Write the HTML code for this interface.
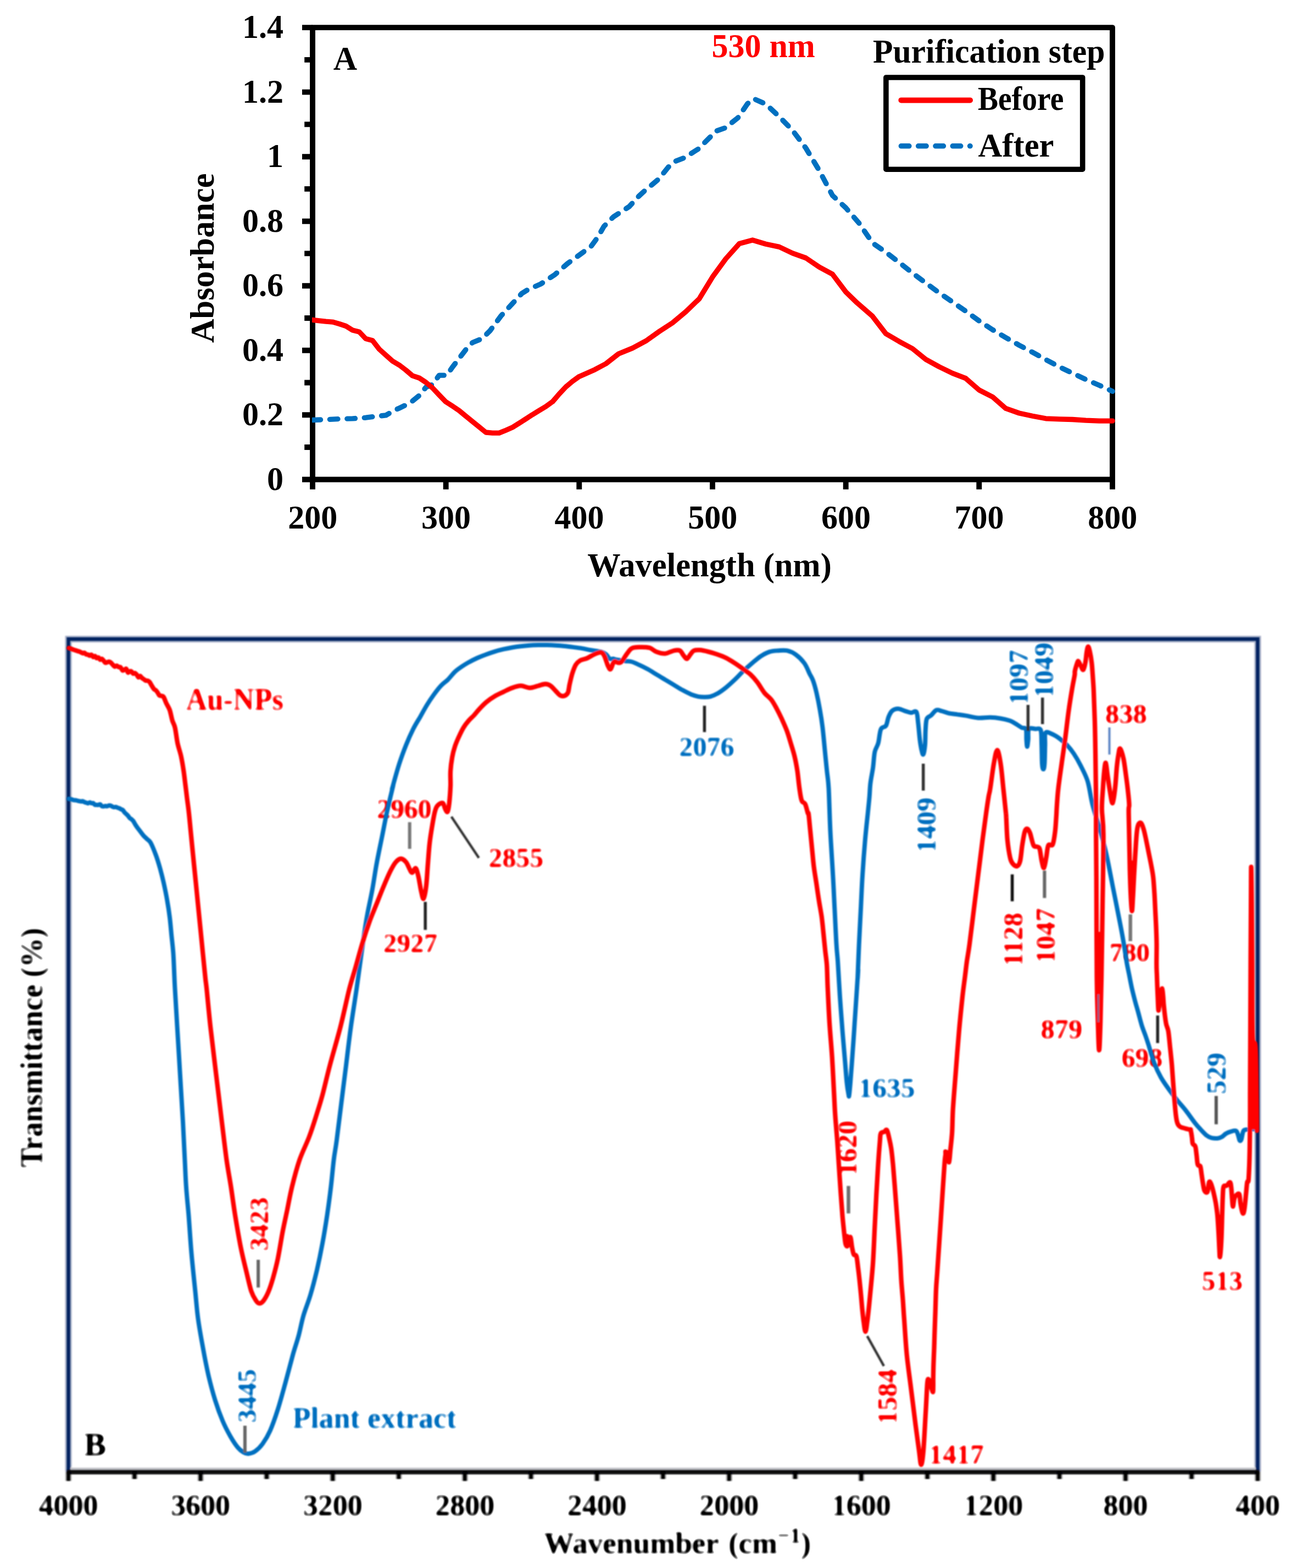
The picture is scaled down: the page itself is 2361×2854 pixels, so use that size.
<!DOCTYPE html>
<html lang="en"><head><meta charset="utf-8"><title>UV-Vis and FTIR spectra</title>
<style>html,body{margin:0;padding:0;background:#fff}body{width:2361px;height:2854px;overflow:hidden}svg{display:block}text{font-family:'Liberation Serif', 'Times New Roman', serif;font-weight:bold}</style>
</head><body>
<svg width="2361" height="2854" viewBox="0 0 2361 2854">
<defs><filter id="soft" x="-2%" y="-2%" width="104%" height="104%"><feGaussianBlur stdDeviation="1.1"/></filter><filter id="thin" x="-2%" y="-2%" width="104%" height="104%"><feGaussianBlur stdDeviation="1.9"/><feComponentTransfer><feFuncA type="linear" slope="1.7" intercept="-0.32"/></feComponentTransfer></filter></defs>
<rect width="2361" height="2854" fill="#fff"/>
<g id="chartA">
<rect x="569.0" y="50.1" width="1456.0" height="822.6999999999999" fill="none" stroke="#000" stroke-width="9.9" stroke-linejoin="round"/>
<path d="M550 872.8H569.0M554.2 814H569.0M550 755.3H569.0M554.2 696.5H569.0M550 637.7H569.0M554.2 579H569.0M550 520.2H569.0M554.2 461.4H569.0M550 402.7H569.0M554.2 343.9H569.0M550 285.2H569.0M554.2 226.4H569.0M550 167.6H569.0M554.2 108.9H569.0M550 50.1H569.0M569 872.8V890.8M811.7 872.8V890.8M1054.3 872.8V890.8M1297 872.8V890.8M1539.7 872.8V890.8M1782.3 872.8V890.8M2025 872.8V890.8" fill="none" stroke="#000" stroke-width="9.9"/>
<clipPath id="clipA"><rect x="567.9" y="45" width="1462.1" height="833"/></clipPath>
<g clip-path="url(#clipA)">
<path d="M568.9 764.5 L593.4 763.7 L617.6 762.5 L641.8 761.9 L665.9 760.2 L683.8 757.9 L702.5 755.9 L714.6 748.7 L726.7 742.9 L738.8 737.2 L750.8 730 L763.2 719.9 L775.3 704.9 L787.4 699.8 L799.5 683.1 L813.3 683.1 L823.7 668.1 L835.8 652.3 L847.9 636.4 L860.2 623.5 L877.7 616.3 L892.1 601.9 L912.3 574.6 L932.4 553 L949.7 534.3 L961.2 527.1 L984.2 517 L1010.1 499.8 L1033.2 479.6 L1059.1 460.9 L1076.3 447.9 L1087.9 432.1 L1099.4 412 L1116.6 394.7 L1145.4 376 L1162.7 357.3 L1173.5 347.3 L1199.4 325.7 L1216.6 304.1 L1228.2 294 L1245.4 287.4 L1271.3 271 L1292.9 249.4 L1301.6 239.3 L1320.3 232.7 L1343.3 214.3 L1360.6 188.9 L1372.1 179.7 L1394 189.5 L1418.2 212 L1442.7 237.3 L1466.9 269.5 L1491 309.8 L1515.5 355.9 L1539.7 378.3 L1563.9 406.3 L1588.3 442.2 L1612.4 459 L1636.9 477.7 L1661 497 L1685.2 515.1 L1709.7 533 L1733.9 549.7 L1758 566.4 L1782.5 584.2 L1806.7 600.1 L1830.9 614.5 L1855.3 628.3 L1879.5 641.2 L1903.7 654.5 L1928.2 667.7 L1952.3 679.2 L1976.5 690.7 L2001 701.3 L2025.2 712.3" fill="none" stroke="#0070c0" stroke-width="9.4" stroke-linecap="round" stroke-linejoin="round" stroke-dasharray="14.6 16.9"/>
<path d="M568.9 582.3 L581.6 583.8 L593.4 585.2 L605.5 586.1 L617.6 589.5 L629.7 593.5 L641.8 601 L653.8 603.9 L665.9 616.6 L678 619.7 L690.4 635.6 L702.5 646.5 L714.6 657.2 L726.7 664.4 L738.8 673.6 L750.8 683.9 L763.2 688 L775.3 696 L787.4 706.1 L799.5 719 L811.6 731.4 L823.7 739.2 L835.8 747.3 L847.9 757.3 L860.2 767.4 L872.3 777.2 L884.4 787 L896.5 788.1 L908.6 788.1 L920.7 783.2 L933.1 777.8 L945.1 770.3 L957.2 762.5 L969.3 754.7 L981.4 747.3 L993.5 740.1 L1005.9 731.1 L1018 717 L1030.1 704.1 L1042.2 694 L1054.2 685.4 L1083 672.7 L1103 662 L1126 644 L1151.4 633.6 L1175.6 620.7 L1200 603.4 L1224.2 587.6 L1248.4 567.4 L1272.9 543.8 L1297.1 504.1 L1321.2 471 L1345.7 443.6 L1369.9 437 L1394.1 444.2 L1418.5 449.4 L1442.7 460.9 L1466.9 469.5 L1491.4 486.2 L1515.5 499.2 L1539.7 531.4 L1560 551.1 L1588.2 575.6 L1612.4 607.2 L1636.9 621.6 L1661 634.5 L1685.2 654.1 L1709.7 667.6 L1733.9 679.4 L1758 688.7 L1782.5 710 L1806.7 722.3 L1830.9 743.4 L1855.3 752 L1879.5 757.2 L1903.7 761.8 L1928.2 762.9 L1952.3 763.5 L1976.5 765.2 L2001 766.1 L2025.2 766.1" fill="none" stroke="#ff0000" stroke-width="9.3" stroke-linecap="round" stroke-linejoin="round"/>
</g>
<g font-size="60" fill="#000">
<text transform="translate(516 891.7) scale(1 1.03)" text-anchor="end">0</text>
<text transform="translate(516 774.2) scale(1 1.03)" text-anchor="end">0.2</text>
<text transform="translate(516 656.6) scale(1 1.03)" text-anchor="end">0.4</text>
<text transform="translate(516 539.1) scale(1 1.03)" text-anchor="end">0.6</text>
<text transform="translate(516 421.6) scale(1 1.03)" text-anchor="end">0.8</text>
<text transform="translate(516 304.1) scale(1 1.03)" text-anchor="end">1</text>
<text transform="translate(516 186.5) scale(1 1.03)" text-anchor="end">1.2</text>
<text transform="translate(516 69) scale(1 1.03)" text-anchor="end">1.4</text>
<text transform="translate(569.3 962.4) scale(1 1.03)" text-anchor="middle">200</text>
<text transform="translate(812 962.4) scale(1 1.03)" text-anchor="middle">300</text>
<text transform="translate(1054.6 962.4) scale(1 1.03)" text-anchor="middle">400</text>
<text transform="translate(1297.3 962.4) scale(1 1.03)" text-anchor="middle">500</text>
<text transform="translate(1540 962.4) scale(1 1.03)" text-anchor="middle">600</text>
<text transform="translate(1782.6 962.4) scale(1 1.03)" text-anchor="middle">700</text>
<text transform="translate(2025.3 962.4) scale(1 1.03)" text-anchor="middle">800</text>
<text transform="translate(1291.5 1048.6) scale(1 1.03)" text-anchor="middle" textLength="444.5" lengthAdjust="spacingAndGlyphs">Wavelength (nm)</text>
<text transform="translate(389.1 469.8) rotate(-90) scale(1 1.03)" text-anchor="middle" textLength="308.5" lengthAdjust="spacingAndGlyphs">Absorbance</text>
<text transform="translate(606.8 127.1) scale(1 1.03)">A</text>
<text transform="translate(1295.5 104.2) scale(1 1.03)" fill="#ff0000">530 nm</text>
<text transform="translate(1589 113.5) scale(1 1.03)" textLength="422.5" lengthAdjust="spacingAndGlyphs">Purification step</text>
<text transform="translate(1780 200.4) scale(1 1.03)" textLength="156.5" lengthAdjust="spacingAndGlyphs">Before</text>
<text transform="translate(1780.5 284.7) scale(1 1.03)" textLength="138" lengthAdjust="spacingAndGlyphs">After</text>
</g>
<rect x="1612.9" y="141" width="357.8" height="167.2" fill="none" stroke="#000" stroke-width="9.6" stroke-linejoin="round"/>
<path d="M1640.4 182.4H1766" fill="none" stroke="#ff0000" stroke-width="10" stroke-linecap="round"/>
<path d="M1640.4 265.8H1766" fill="none" stroke="#0070c0" stroke-width="9.6" stroke-linecap="round" stroke-dasharray="14.4 16.9"/>
</g>
<g id="chartB">
<g filter="url(#soft)">
<path d="M124.6 2678.3V1163.2H2289.4V2678.3" fill="none" stroke="#002060" stroke-opacity="0.36" stroke-width="12" stroke-linejoin="miter"/>
<path d="M124.6 2678.3V1163.2H2289.4V2678.3" fill="none" stroke="#002060" stroke-width="6.4" stroke-linejoin="miter"/>
<path d="M128.6 2673.2H2285.4" fill="none" stroke="#bfc0c6" stroke-width="3.4"/>
<path d="M121.6 2679.3H2292.4" fill="none" stroke="#0a0a0c" stroke-width="8.6"/>
<path d="M124.6 2678.3V2695.6M244.9 2678.3V2692M365.1 2678.3V2695.6M485.4 2678.3V2692M605.7 2678.3V2695.6M725.9 2678.3V2692M846.2 2678.3V2695.6M966.5 2678.3V2692M1086.7 2678.3V2695.6M1207 2678.3V2692M1327.3 2678.3V2695.6M1447.5 2678.3V2692M1567.8 2678.3V2695.6M1688.1 2678.3V2692M1808.3 2678.3V2695.6M1928.6 2678.3V2692M2048.9 2678.3V2695.6M2169.1 2678.3V2692M2289.4 2678.3V2695.6" fill="none" stroke="#000" stroke-opacity="0.35" stroke-width="11.5"/>
<path d="M124.6 2678.3V2695.6M244.9 2678.3V2692M365.1 2678.3V2695.6M485.4 2678.3V2692M605.7 2678.3V2695.6M725.9 2678.3V2692M846.2 2678.3V2695.6M966.5 2678.3V2692M1086.7 2678.3V2695.6M1207 2678.3V2692M1327.3 2678.3V2695.6M1447.5 2678.3V2692M1567.8 2678.3V2695.6M1688.1 2678.3V2692M1808.3 2678.3V2695.6M1928.6 2678.3V2692M2048.9 2678.3V2695.6M2169.1 2678.3V2692M2289.4 2678.3V2695.6" fill="none" stroke="#050505" stroke-width="6.4"/>
</g>
<g filter="url(#thin)">
<text font-size="54" fill="#000" text-anchor="middle" x="124.6" y="2758.2">4000</text>
<text font-size="54" fill="#000" text-anchor="middle" x="365.1" y="2758.2">3600</text>
<text font-size="54" fill="#000" text-anchor="middle" x="605.7" y="2758.2">3200</text>
<text font-size="54" fill="#000" text-anchor="middle" x="846.2" y="2758.2">2800</text>
<text font-size="54" fill="#000" text-anchor="middle" x="1086.7" y="2758.2">2400</text>
<text font-size="54" fill="#000" text-anchor="middle" x="1327.3" y="2758.2">2000</text>
<text font-size="54" fill="#000" text-anchor="middle" x="1567.8" y="2758.2">1600</text>
<text font-size="54" fill="#000" text-anchor="middle" x="1808.3" y="2758.2">1200</text>
<text font-size="54" fill="#000" text-anchor="middle" x="2048.9" y="2758.2">800</text>
<text font-size="54" fill="#000" text-anchor="middle" x="2289.4" y="2758.2">400</text>
<text x="990" y="2826.7" font-size="55.2" fill="#000">Wavenumber <tspan dx="4.5">(cm</tspan><tspan font-size="40" dy="-19">−1</tspan><tspan dy="19">)</tspan></text>
<text transform="translate(76.6 2125) rotate(-90)" font-size="57" fill="#000" textLength="436" lengthAdjust="spacingAndGlyphs">Transmittance (%)</text>
<text font-size="60" fill="#000" x="153" y="2649">B</text>
<text font-size="56" fill="#ff0000" textLength="177.5" lengthAdjust="spacingAndGlyphs" x="338.5" y="1292">Au-NPs</text>
<text font-size="54" fill="#0070c0" x="532.5" y="2598.6">Plant extract</text>
<text font-size="49.8" fill="#ff0000" x="686" y="1488.8">2960</text>
<text font-size="49.3" fill="#ff0000" x="697.8" y="1732.6">2927</text>
<text font-size="49.8" fill="#ff0000" x="889.5" y="1578.1">2855</text>
<text font-size="50.2" fill="#0070c0" x="1236.3" y="1375.8">2076</text>
<text font-size="51.5" fill="#0070c0" x="1562.5" y="1997.4">1635</text>
<text font-size="50.2" fill="#ff0000" x="1690.8" y="2663.8">1417</text>
<text font-size="50.6" fill="#ff0000" x="2012" y="1315.6">838</text>
<text font-size="49" fill="#ff0000" x="2019.5" y="1750.4">780</text>
<text font-size="50.6" fill="#ff0000" x="1894.5" y="1889.6">879</text>
<text font-size="49.6" fill="#ff0000" x="2041.8" y="1941.8">698</text>
<text font-size="49.6" fill="#ff0000" x="2187.6" y="2348.4">513</text>
<text font-size="48.8" fill="#ff0000" transform="translate(488.2 2276.8) rotate(-90)">3423</text>
<text font-size="48.9" fill="#0070c0" transform="translate(465.8 2589.8) rotate(-90)">3445</text>
<text font-size="50.5" fill="#0070c0" transform="translate(1703.1 1552.5) rotate(-90)">1409</text>
<text font-size="50.5" fill="#ff0000" transform="translate(1860.6 1759.2) rotate(-90)">1128</text>
<text font-size="50.5" fill="#ff0000" transform="translate(1919.6 1753.5) rotate(-90)">1047</text>
<text font-size="50.5" fill="#0070c0" transform="translate(1870.5 1283.5) rotate(-90)">1097</text>
<text font-size="50.5" fill="#0070c0" transform="translate(1916.5 1270.5) rotate(-90)">1049</text>
<text font-size="50.5" fill="#0070c0" transform="translate(2231.3 1991.8) rotate(-90)">529</text>
<text font-size="50.5" fill="#ff0000" transform="translate(1559 2140.5) rotate(-90)">1620</text>
<text font-size="50.5" fill="#ff0000" transform="translate(1631.8 2593.0) rotate(-90)">1584</text>
</g>
<g filter="url(#soft)">
<path d="M125.3 1454 C125.9 1454.1 127.4 1454.4 128.5 1454.6 C129.6 1454.9 130.6 1455.1 131.7 1455.4 C132.7 1455.6 133.8 1456.2 134.8 1456.4 C135.9 1456.6 136.9 1456.5 138 1456.6 C139.1 1456.8 140.1 1457.1 141.2 1457.4 C142.2 1457.6 143.3 1458 144.3 1458.2 C145.4 1458.5 146.4 1458.7 147.5 1458.7 C148.6 1458.8 149.6 1458.2 150.7 1458.4 C151.7 1458.7 152.8 1459.6 153.8 1460 C154.9 1460.5 155.9 1460.7 157 1461 C158.1 1461.4 159.1 1462.3 160.2 1462.2 C161.2 1462.1 162.3 1460.6 163.3 1460.6 C164.4 1460.5 165.4 1461.7 166.5 1461.9 C167.5 1462.1 168.6 1461.4 169.7 1461.8 C170.7 1462.3 171.8 1464.2 172.8 1464.8 C173.9 1465.3 174.9 1465 176 1465 C177 1465.1 178.1 1465.2 179.2 1465.1 C180.2 1464.9 181.3 1463.6 182.3 1464 C183.4 1464.4 184.4 1466.8 185.5 1467.4 C186.5 1468 187.6 1467.8 188.7 1467.7 C189.7 1467.7 190.8 1467.2 191.8 1467.1 C192.9 1467.1 193.9 1467.5 195 1467.4 C196 1467.3 197.1 1466.5 198.2 1466.3 C199.2 1466.1 200.3 1466 201.3 1466.3 C202.4 1466.6 203.4 1467.7 204.5 1468.2 C205.5 1468.7 206.6 1469.2 207.7 1469.3 C208.7 1469.3 209.8 1468.6 210.8 1468.7 C211.9 1468.8 212.9 1469.7 214 1470.1 C215 1470.5 216.1 1470.7 217.2 1471.2 C218.2 1471.7 219.3 1472.4 220.3 1473 C221.4 1473.5 222.4 1473.4 223.5 1474.4 C224.5 1475.4 225.6 1477.5 226.7 1478.7 C227.7 1479.9 228.8 1480.6 229.8 1481.6 C230.9 1482.6 231.9 1483.5 233 1484.7 C234 1486 235.1 1487.9 236.2 1489 C237.2 1490.1 238.3 1490.3 239.3 1491.1 C240.4 1492 241.3 1492.6 242.5 1494.2 C243.7 1495.9 245.1 1498.9 246.4 1501 C247.8 1503.1 249.1 1505.1 250.4 1506.9 C251.7 1508.7 252.9 1510 254.1 1511.7 C255.3 1513.3 256.6 1515.1 257.8 1516.7 C259 1518.3 260.3 1519.9 261.5 1521.2 C262.6 1522.4 263.6 1523.3 264.7 1524.3 C265.7 1525.3 266.2 1525.8 267.8 1527.4 C269.4 1529 271.5 1529.1 274.2 1533.8 C276.8 1538.6 280.7 1548.1 283.6 1556 C286.6 1563.9 289.2 1572.9 291.6 1581.3 C293.9 1589.8 295.8 1597.2 297.9 1606.7 C300 1616.2 302.4 1627.8 304.2 1638.3 C306.1 1648.9 307.7 1659.4 309 1670 C310.3 1680.5 311.1 1691.1 312.1 1701.6 C313.2 1712.2 314.5 1722.8 315.3 1733.3 C316.1 1743.9 316.4 1753.9 316.9 1765 C317.4 1776.1 317.5 1782.6 318.5 1800 C319.4 1817.4 321.1 1843.2 322.6 1869.1 C324.2 1895 326.1 1926.7 327.8 1955.4 C329.5 1984.2 331.5 2015.9 333 2041.8 C334.4 2067.7 335.5 2091.2 336.4 2110.9 C337.4 2130.6 337.7 2143.2 338.9 2160 C340 2176.8 341.7 2191.7 343.4 2211.8 C345 2232 346.5 2257.9 348.5 2280.9 C350.5 2303.9 353.4 2330.1 355.4 2350 C357.4 2369.8 358.2 2383 360.5 2400 C362.8 2417 366 2434.5 369.2 2451.8 C372.3 2469.1 375.8 2487.5 379.5 2503.6 C383.3 2519.7 387.3 2534.7 391.6 2548.5 C395.9 2562.3 400.8 2575.6 405.4 2586.5 C410 2597.5 414.7 2606.1 419.3 2614.2 C423.9 2622.2 429 2630 433.1 2634.9 C437.1 2639.8 440.3 2641.7 443.4 2643.5 C446.6 2645.4 448.6 2646.2 452.1 2645.9 C455.5 2645.7 459.8 2644.8 464.2 2641.8 C468.5 2638.8 473.4 2634.3 478 2628 C482.6 2621.6 487.2 2614.2 491.8 2603.8 C496.4 2593.4 501 2580.2 505.6 2565.8 C510.2 2551.4 514.8 2534.1 519.4 2517.4 C524 2500.7 529.2 2480 533.2 2465.6 C537.3 2451.2 540.4 2442.9 543.6 2431.1 C546.8 2419.3 548.7 2407.3 552.3 2394.9 C555.9 2382.5 561 2370.7 565.1 2356.9 C569.2 2343.1 573.2 2327.5 576.9 2312 C580.5 2296.4 583.8 2280.3 586.9 2263.6 C590 2246.9 592.9 2229.1 595.5 2211.8 C598.1 2194.5 600.4 2176.8 602.4 2160 C604.4 2143.2 605.9 2124.8 607.6 2110.9 C609.3 2096.9 610.5 2093.6 612.8 2076.3 C615.1 2059.1 618.5 2030.3 621.4 2007.3 C624.3 1984.2 627.2 1961.2 630.1 1938.2 C632.9 1915.1 635.5 1892.1 638.7 1869.1 C641.9 1846.1 645.2 1826.7 649.1 1800 C652.9 1773.3 658.6 1730.7 661.7 1708.6 C664.9 1686.6 665.4 1682.3 668.1 1667.5 C670.7 1652.7 674.7 1635.8 677.6 1620 C680.5 1604.2 682.6 1588.3 685.5 1572.5 C688.4 1556.7 691.8 1540.8 695 1525 C698.2 1509.2 701.1 1493.3 704.5 1477.5 C707.9 1461.7 714 1437.1 715.6 1430 C717.2 1422.9 712.1 1441.5 714 1435 C715.8 1428.4 722.4 1403.8 726.7 1390.6 C730.9 1377.5 735.1 1366.4 739.3 1355.8 C743.5 1345.3 747.8 1335.8 752 1327.3 C756.2 1318.9 760.4 1312.5 764.7 1305.2 C768.9 1297.8 773.1 1289.8 777.3 1283 C781.5 1276.1 785.8 1269.8 790 1264 C794.2 1258.2 798.4 1252.6 802.6 1248.2 C806.9 1243.7 811.1 1241.3 815.3 1237.1 C819.5 1232.9 823.8 1226.8 828 1222.8 C832.2 1218.9 836.4 1216.2 840.6 1213.3 C844.9 1210.4 848.6 1208.1 853.3 1205.4 C858.1 1202.8 863.9 1199.9 869.1 1197.5 C874.4 1195.1 879.7 1193.1 885 1191.2 C890.3 1189.2 895.5 1187.4 900.8 1185.8 C906.1 1184.2 911.4 1182.9 916.6 1181.7 C921.9 1180.5 927.2 1179.4 932.5 1178.5 C937.7 1177.6 943 1176.9 948.3 1176.3 C953.6 1175.6 958.9 1175.1 964.1 1174.7 C969.4 1174.3 974.7 1174.2 980 1174.1 C985.2 1174 990.5 1174 995.8 1174.1 C1001.1 1174.2 1006.4 1174.4 1011.6 1174.7 C1016.9 1175 1022.2 1175.4 1027.5 1176 C1032.7 1176.5 1038 1177.2 1043.3 1177.9 C1048.6 1178.6 1053.8 1179.2 1059.1 1180.1 C1064.4 1181 1069.2 1182.2 1075 1183.2 C1080.8 1184.3 1089.2 1185.1 1094 1186.4 C1098.7 1187.7 1100.8 1189.1 1103.5 1191.2 C1106.1 1193.3 1107.7 1197.8 1109.8 1199.1 C1111.9 1200.4 1114 1198.8 1116.1 1199.1 C1118.2 1199.3 1118.8 1200 1122.5 1200.7 C1126.1 1201.3 1133.7 1202.6 1138.3 1203.2 C1142.9 1203.8 1145.8 1203.3 1150 1204.5 C1154.2 1205.6 1158.5 1207.9 1163.3 1210.2 C1168.2 1212.4 1173.9 1215.2 1179.2 1218.1 C1184.4 1221 1189.7 1224.4 1195 1227.6 C1200.3 1230.7 1205.5 1233.9 1210.8 1237.1 C1216.1 1240.2 1221.4 1243.4 1226.7 1246.6 C1231.9 1249.7 1237.2 1253.2 1242.5 1256.1 C1247.8 1259 1253.6 1262 1258.3 1264 C1263.1 1265.9 1267 1267 1271 1267.8 C1274.9 1268.6 1278.4 1268.7 1282.1 1268.7 C1285.8 1268.7 1289.2 1268.8 1293.1 1267.8 C1297.1 1266.7 1301.1 1265.2 1305.8 1262.4 C1310.6 1259.7 1316.4 1255.5 1321.6 1251.3 C1326.9 1247.1 1332.2 1242.1 1337.5 1237.1 C1342.8 1232.1 1348 1226.3 1353.3 1221.2 C1358.6 1216.2 1363.9 1211.5 1369.1 1207 C1374.4 1202.5 1379.7 1197.8 1385 1194.3 C1390.3 1190.9 1395.5 1188.1 1400.8 1186.4 C1406.1 1184.7 1411.4 1184.6 1416.6 1184.2 C1421.9 1183.8 1427.2 1183 1432.5 1184.2 C1437.7 1185.4 1443 1187.4 1448.3 1191.2 C1453.6 1195 1459.9 1201.2 1464.1 1207 C1468.4 1212.8 1471 1220.7 1473.6 1226 C1476.3 1231.3 1477.9 1232.9 1480 1238.7 C1482.1 1244.5 1484.2 1251.9 1486.3 1260.8 C1488.4 1269.8 1490.8 1281.9 1492.6 1292.5 C1494.5 1303 1495.8 1311 1497.4 1324.2 C1499 1337.3 1500.8 1358.5 1502.1 1371.6 C1503.4 1384.8 1504.2 1392.8 1505.3 1403.3 C1506.4 1413.9 1507.4 1416.6 1508.5 1435 C1509.5 1453.3 1510.2 1487.1 1511.5 1513.3 C1512.8 1539.6 1514.9 1568.7 1516.2 1592.5 C1517.6 1616.2 1518.3 1634.7 1519.4 1655.8 C1520.5 1676.9 1521.6 1703.4 1522.6 1719.1 C1523.5 1734.8 1524 1734.3 1525.1 1750 C1526.2 1765.7 1527.5 1792.2 1528.9 1813.3 C1530.3 1834.4 1532.1 1856.6 1533.6 1876.7 C1535.2 1896.7 1537.1 1917.8 1538.4 1933.6 C1539.7 1949.5 1540.5 1961.9 1541.6 1971.6 C1542.6 1981.4 1544 1988.5 1544.7 1992.2 C1545.4 1995.9 1545.2 1997.2 1545.7 1993.8 C1546.2 1990.4 1546.7 1985.9 1547.9 1971.6 C1549.1 1957.4 1551.3 1926.8 1552.6 1908.3 C1554 1889.8 1554.8 1876.7 1555.8 1860.8 C1556.9 1845 1557.9 1829.2 1559 1813.3 C1560 1797.5 1561.8 1771.4 1562.1 1765.8 C1562.5 1760.3 1560.9 1787.7 1561.2 1779.9 C1561.5 1772.2 1562.8 1739.8 1563.7 1719.1 C1564.7 1698.5 1565.8 1676.9 1566.9 1655.8 C1568 1634.7 1568.7 1613.6 1570.1 1592.5 C1571.4 1571.4 1573.2 1547.6 1574.8 1529.2 C1576.4 1510.7 1578.2 1494.9 1579.6 1481.7 C1580.9 1468.5 1581.9 1459.4 1582.7 1450 C1583.5 1440.6 1583.4 1434.3 1584.5 1425.5 C1585.5 1416.6 1587.9 1406.5 1589.2 1397 C1590.5 1387.5 1590.8 1375.9 1592.4 1368.5 C1594 1361.1 1596.9 1359.5 1598.7 1352.6 C1600.6 1345.8 1601.1 1332.6 1603.5 1327.3 C1605.8 1322 1610.3 1324.7 1612.7 1321 C1615 1317.3 1615.6 1309.6 1617.4 1305.2 C1619.3 1300.7 1620.8 1296.6 1623.7 1294.1 C1626.7 1291.5 1630.9 1290 1634.8 1290 C1638.8 1290 1643.5 1292.9 1647.5 1294.1 C1651.5 1295.3 1655.1 1297 1658.6 1297.2 C1662 1297.5 1666 1292.8 1668.1 1295.7 C1670.2 1298.6 1670.2 1306.2 1671.2 1314.7 C1672.3 1323.1 1673.4 1337.9 1674.4 1346.3 C1675.5 1354.8 1676.5 1360.8 1677.6 1365.3 C1678.6 1369.8 1679.7 1374.8 1680.7 1373.2 C1681.8 1371.6 1683.2 1363.5 1683.9 1355.8 C1684.6 1348.2 1684.3 1335.2 1684.9 1327.3 C1685.4 1319.4 1685.4 1312.5 1687.1 1308.3 C1688.8 1304.1 1692.1 1304.6 1695 1302 C1697.9 1299.3 1701.3 1293.8 1704.5 1292.5 C1707.7 1291.2 1710.3 1293.1 1714 1294.1 C1717.7 1295 1721.9 1297.1 1726.7 1298.2 C1731.4 1299.2 1737.2 1299.7 1742.5 1300.4 C1747.8 1301.1 1752 1301.6 1758.3 1302.6 C1764.7 1303.7 1773.1 1306.2 1780.5 1306.7 C1787.9 1307.3 1795.8 1305.6 1802.6 1305.8 C1809.5 1305.9 1815.8 1306.7 1821.6 1307.7 C1827.5 1308.6 1833.3 1310.1 1837.5 1311.5 C1841.7 1312.9 1843.3 1314.1 1847 1316.2 C1850.7 1318.3 1856.2 1322.3 1859.6 1324.2 C1863.1 1326 1866.1 1323.6 1867.6 1327.3 C1869 1331 1868.1 1341 1868.5 1346.3 C1868.9 1351.6 1869.2 1359 1869.8 1359 C1870.3 1359 1871.1 1351.6 1871.7 1346.3 C1872.2 1341 1870.7 1330.6 1872.9 1327.3 C1875.2 1324 1881.4 1326.4 1885 1326.7 C1888.6 1326.9 1892.6 1324 1894.5 1328.9 C1896.3 1333.8 1895.6 1345.5 1896.1 1355.8 C1896.5 1366.1 1896.5 1383.3 1897 1390.6 C1897.5 1398 1898.5 1400.1 1899.2 1400.1 C1900 1400.1 1900.9 1398 1901.4 1390.6 C1902 1383.3 1902.1 1365.3 1902.4 1355.8 C1902.7 1346.3 1901 1336.8 1903.3 1333.6 C1905.7 1330.5 1912.3 1335 1916.6 1336.8 C1921 1338.7 1925.1 1341.6 1929.3 1344.7 C1933.5 1347.9 1937.7 1351.3 1942 1355.8 C1946.2 1360.3 1950.4 1365.3 1954.6 1371.6 C1958.9 1378 1963.1 1385.4 1967.3 1393.8 C1971.5 1402.3 1976.4 1410.5 1980 1422.3 C1983.5 1434.1 1985.3 1450.9 1988.8 1464.8 C1992.3 1478.7 1996.9 1491.3 2001 1505.7 C2005.1 1520.1 2009.1 1533.6 2013.2 1551.4 C2017.3 1569.2 2021.4 1592.1 2025.4 1612.4 C2029.5 1632.7 2034.6 1658.8 2037.5 1673.4 C2040.4 1688 2041.1 1691.7 2042.6 1700 C2044.1 1708.3 2045.2 1714.4 2046.6 1723 C2048 1731.6 2049.5 1743.2 2051 1751.8 C2052.5 1760.4 2054.1 1767.1 2055.6 1774.8 C2057.1 1782.5 2058.5 1790.2 2060.2 1797.9 C2061.9 1805.6 2063.9 1813.2 2065.9 1820.9 C2067.9 1828.6 2070.2 1836.2 2072.3 1843.9 C2074.4 1851.6 2076.5 1860.3 2078.6 1867 C2080.7 1873.7 2082.9 1878.5 2084.9 1884.2 C2086.9 1889.9 2087.8 1892.5 2090.5 1901 C2093.2 1909.5 2097.3 1925.1 2101.2 1935.1 C2105 1945.1 2108.8 1952.9 2113.3 1961 C2117.9 1969.1 2123.5 1976.7 2128.6 1983.9 C2133.7 1991 2138.7 1997.3 2143.8 2003.7 C2148.9 2010 2153.9 2015.3 2159.1 2022 C2164.3 2028.6 2170.6 2038.1 2175.1 2043.7 C2179.5 2049.4 2182.2 2052.1 2185.7 2055.9 C2189.3 2059.7 2193.1 2064 2196.4 2066.6 C2199.7 2069.1 2202.2 2070.3 2205.5 2071.2 C2208.8 2072 2213.2 2072.2 2216.2 2071.9 C2219.3 2071.7 2221.3 2071 2223.8 2069.6 C2226.4 2068.2 2228.7 2065.2 2231.4 2063.5 C2234.2 2061.9 2237.5 2060.6 2240.6 2059.7 C2243.6 2058.8 2247.6 2057.3 2249.7 2058.2 C2251.9 2059.1 2252.4 2062.1 2253.5 2065.1 C2254.7 2068 2255.6 2074.2 2256.6 2075.7 C2257.6 2077.2 2258.8 2076.2 2259.6 2074.2 C2260.5 2072.2 2261.2 2066.3 2261.9 2063.5 C2262.7 2060.7 2262.7 2058.7 2264.2 2057.4 C2265.7 2056.2 2267.4 2056.3 2271.1 2055.9 C2274.8 2055.5 2283.8 2055.3 2286.3 2055.1" fill="none" stroke="#0070c0" stroke-width="8.0" stroke-linecap="round" stroke-linejoin="round"/>
<path d="M125.3 1179.4 C128 1180.4 138 1184 141.2 1185 C144.3 1186.1 143.3 1185.5 144.3 1185.8 C145.4 1186.2 146.4 1186.8 147.5 1187.4 C148.6 1187.9 149.6 1188.8 150.7 1189 C151.7 1189.1 152.8 1187.9 153.8 1188.3 C154.9 1188.6 155.9 1190.6 157 1191.1 C158.1 1191.7 159.1 1191.1 160.2 1191.5 C161.2 1191.9 162.3 1193.3 163.3 1193.4 C164.4 1193.4 165.4 1191.4 166.5 1191.8 C167.5 1192.2 168.6 1195.5 169.7 1195.9 C170.7 1196.2 171.8 1193.7 172.8 1194.1 C173.9 1194.4 174.9 1197.4 176 1197.8 C177 1198.2 178.1 1196.2 179.2 1196.7 C180.2 1197.2 181.3 1200.2 182.3 1200.7 C183.4 1201.1 184.4 1198.9 185.5 1199.2 C186.5 1199.5 187.6 1201.4 188.7 1202.6 C189.7 1203.7 190.8 1205.8 191.8 1206.3 C192.9 1206.8 193.9 1205.8 195 1205.4 C196.1 1205.1 197.3 1204.1 198.5 1204.3 C199.6 1204.4 200.8 1205.2 202 1206.2 C203.1 1207.1 204.3 1208.8 205.4 1210 C206.6 1211.2 207.8 1213.1 208.9 1213.3 C210.1 1213.6 211.2 1211.6 212.4 1211.7 C213.6 1211.9 214.8 1213.6 216 1214.1 C217.2 1214.6 218.3 1213.7 219.5 1214.7 C220.7 1215.8 221.9 1219.5 223.1 1220.3 C224.3 1221 225.5 1219.5 226.7 1219 C227.8 1218.6 228.8 1216.7 229.8 1217.5 C230.9 1218.4 231.9 1223.4 233 1224.1 C234 1224.8 235.1 1222.2 236.2 1221.9 C237.2 1221.6 238.3 1221.6 239.3 1222.3 C240.4 1223 241.4 1225.5 242.5 1226 C243.5 1226.5 244.6 1224.8 245.7 1225.1 C246.7 1225.5 247.8 1226.7 248.8 1227.9 C249.9 1229.2 250.9 1232.4 252 1232.8 C253 1233.2 254.1 1230.1 255.2 1230.3 C256.2 1230.5 257.2 1232.9 258.3 1233.9 C259.4 1234.9 260.7 1235.6 261.9 1236.4 C263.1 1237.2 264.3 1238.3 265.4 1238.8 C266.6 1239.2 267.8 1238.5 269 1239 C270.2 1239.5 271.3 1240.3 272.6 1241.8 C273.8 1243.4 275.2 1246.3 276.5 1248.4 C277.8 1250.6 279.3 1253.2 280.5 1254.5 C281.7 1255.8 282.6 1255.4 283.6 1256.4 C284.7 1257.3 285.8 1258.9 286.8 1260.4 C287.9 1261.9 288.8 1264.5 290 1265.6 C291.2 1266.6 292.6 1266.2 293.9 1266.7 C295.3 1267.2 296.4 1266.6 297.9 1268.7 C299.3 1270.9 300.8 1275.9 302.6 1279.8 C304.5 1283.8 307.1 1287.2 309 1292.5 C310.8 1297.8 312.1 1306.2 313.7 1311.5 C315.3 1316.8 316.9 1317.3 318.5 1324.2 C320.1 1331 321.4 1343.9 323.2 1352.6 C325.1 1361.4 327.7 1368 329.6 1376.4 C331.4 1384.8 333 1394.6 334.3 1403.3 C335.6 1412 336.4 1420.2 337.5 1428.6 C338.5 1437.1 339.6 1445.5 340.6 1454 C341.7 1462.4 342.8 1469.7 343.8 1479.3 C344.9 1488.9 345.7 1498.4 347 1511.7 C348.3 1525 350.1 1543.3 351.7 1559.2 C353.3 1575 354.6 1588.2 356.5 1606.7 C358.3 1625.1 360.7 1648.9 362.8 1670 C364.9 1691.1 367.3 1714.8 369.1 1733.3 C371 1751.8 372.7 1769.7 373.9 1780.8 C375.1 1791.9 374.6 1785.3 376.2 1800 C377.7 1814.7 380.2 1843.2 383.1 1869.1 C386 1895 390 1926.7 393.4 1955.4 C396.9 1984.2 400.6 2015.9 403.8 2041.8 C407 2067.7 409.7 2091.2 412.4 2110.9 C415.2 2130.6 417.8 2143.2 420.4 2160 C423 2176.8 425 2193.4 428 2211.8 C431 2230.2 434.9 2253.3 438.3 2270.5 C441.8 2287.8 445.5 2302.2 448.7 2315.4 C451.9 2328.7 454.5 2341.3 457.3 2350 C460.2 2358.6 463.5 2363.5 466 2367.3 C468.5 2371 469.9 2372.4 472.2 2372.4 C474.5 2372.4 477.1 2370.7 479.8 2367.3 C482.5 2363.8 485.5 2358.6 488.4 2351.7 C491.3 2344.8 494.2 2335.9 497.1 2325.8 C499.9 2315.7 502.8 2305.1 505.7 2291.3 C508.6 2277.4 511.5 2257.9 514.3 2242.9 C517.2 2227.9 520.1 2215.3 523 2201.5 C525.8 2187.6 527.9 2175.1 531.6 2160 C535.3 2144.9 540.2 2126 545.4 2110.9 C550.6 2095.8 557.5 2083.2 562.7 2069.4 C567.9 2055.6 572.5 2040.6 576.5 2028 C580.5 2015.3 582.8 2008.4 586.9 1993.4 C590.9 1978.5 595.2 1958.9 600.7 1938.2 C606.2 1917.4 613.8 1892.1 619.7 1869.1 C625.6 1846.1 631.3 1818.2 635.9 1800 C640.6 1781.8 643.5 1774.1 647.5 1759.9 C651.5 1745.8 655.9 1728.8 660.2 1715 C664.4 1701.1 668.6 1688.6 672.8 1677 C677 1665.4 681.3 1655.9 685.5 1645.3 C689.7 1634.8 693.9 1623.7 698.2 1613.6 C702.4 1603.6 707.1 1592.5 710.8 1585.2 C714.5 1577.8 717.2 1573 720.3 1569.3 C723.5 1565.6 726.7 1563 729.8 1563 C733 1563 736.7 1566.2 739.3 1569.3 C742 1572.5 743.8 1578.8 745.7 1582 C747.5 1585.2 748.6 1588.6 750.4 1588.3 C752.3 1588.1 754.9 1579.3 756.7 1580.4 C758.6 1581.5 759.9 1588.1 761.5 1594.7 C763.1 1601.2 764.7 1613.1 766.2 1620 C767.8 1626.8 769.4 1636.9 771 1635.8 C772.6 1634.8 774.4 1624.2 775.7 1613.6 C777.1 1603.1 777.8 1585.7 778.9 1572.5 C780 1559.3 780.7 1546.1 782.1 1534.5 C783.4 1522.9 785.2 1512.3 786.8 1502.8 C788.4 1493.3 790 1483.6 791.6 1477.5 C793.1 1471.4 793.9 1469.1 796.3 1466.4 C798.7 1463.8 803.4 1460.6 805.8 1461.7 C808.2 1462.7 809.1 1470.1 810.6 1472.7 C812 1475.4 813.5 1479.3 814.7 1477.5 C815.9 1475.6 816.9 1469.6 817.8 1461.7 C818.7 1453.7 819.7 1439.7 820.1 1430 C820.4 1420.3 819.5 1412 820.1 1403.3 C820.6 1394.6 821.9 1385.4 823.2 1378 C824.5 1370.6 826.1 1364.8 828 1359 C829.8 1353.2 831.7 1349 834.3 1343.1 C837 1337.3 840.6 1329.4 843.8 1324.2 C847 1318.9 850.1 1315.2 853.3 1311.5 C856.5 1307.8 859.6 1305.4 862.8 1302 C866 1298.6 868.6 1294.9 872.3 1290.9 C876 1286.9 880.2 1282.2 885 1278.2 C889.7 1274.3 895.5 1270.3 900.8 1267.2 C906.1 1264 911.4 1261.8 916.6 1259.2 C921.9 1256.7 927.2 1253.8 932.5 1252 C937.7 1250.1 943 1248.2 948.3 1248.2 C953.6 1248.2 958.9 1252 964.1 1252 C969.4 1252 975.2 1249.3 980 1248.2 C984.7 1247 988.9 1245 992.6 1245 C996.3 1245 999 1246 1002.1 1248.2 C1005.3 1250.3 1008.7 1254.8 1011.6 1257.7 C1014.5 1260.6 1016.9 1264.1 1019.5 1265.6 C1022.2 1267.1 1025.1 1267.3 1027.5 1266.5 C1029.8 1265.7 1032.2 1264.4 1033.8 1260.8 C1035.4 1257.2 1035.6 1250.8 1037 1245 C1038.3 1239.2 1039.9 1231.8 1041.7 1226 C1043.6 1220.2 1045.7 1214.1 1048 1210.2 C1050.4 1206.2 1052.5 1204.3 1056 1202.2 C1059.4 1200.2 1064.4 1200 1068.6 1198.1 C1072.8 1196.3 1077.1 1193 1081.3 1191.2 C1085.5 1189.4 1090.8 1186.8 1094 1187.4 C1097.1 1187.9 1098.2 1190.3 1100.3 1194.3 C1102.4 1198.4 1104.8 1207.8 1106.6 1211.7 C1108.5 1215.7 1109.8 1218.9 1111.4 1218.1 C1113 1217.3 1114.8 1209.4 1116.1 1207 C1117.4 1204.6 1117.7 1203.9 1119.3 1203.8 C1120.9 1203.7 1123.5 1206.4 1125.6 1206.4 C1127.7 1206.4 1129.3 1206.6 1132 1203.8 C1134.6 1201 1138.4 1193.5 1141.5 1189.6 C1144.5 1185.6 1146.4 1182 1150 1180.1 C1153.6 1178.1 1157.9 1178 1163.3 1177.9 C1168.7 1177.7 1177 1177.7 1182.3 1179.1 C1187.6 1180.6 1190.2 1184.7 1195 1186.4 C1199.7 1188.2 1205.5 1189.9 1210.8 1189.6 C1216.1 1189.2 1222.2 1185.1 1226.7 1184.2 C1231.1 1183.3 1234.8 1182.8 1237.7 1184.2 C1240.6 1185.6 1242 1190.3 1244.1 1192.7 C1246.2 1195.2 1248.3 1199.3 1250.4 1199.1 C1252.5 1198.8 1254.6 1193.6 1256.7 1191.2 C1258.8 1188.7 1260.2 1185.5 1263.1 1184.2 C1266 1182.9 1269.7 1182.9 1274.2 1183.2 C1278.6 1183.6 1284.7 1185.1 1290 1186.4 C1295.3 1187.7 1300.5 1189.3 1305.8 1191.2 C1311.1 1193 1316.4 1194.9 1321.6 1197.5 C1326.9 1200.1 1332.2 1203.6 1337.5 1207 C1342.8 1210.4 1348.6 1214.6 1353.3 1218.1 C1358.1 1221.5 1361.8 1223.6 1366 1227.6 C1370.2 1231.5 1374.4 1236.3 1378.6 1241.8 C1382.9 1247.4 1387.1 1255.5 1391.3 1260.8 C1395.5 1266.1 1400.3 1268.7 1404 1273.5 C1407.7 1278.2 1410.3 1283.5 1413.5 1289.3 C1416.6 1295.1 1419.8 1301.5 1423 1308.3 C1426.1 1315.2 1429.6 1322.6 1432.5 1330.5 C1435.4 1338.4 1438 1347.9 1440.4 1355.8 C1442.8 1363.7 1444.9 1370.1 1446.7 1378 C1448.6 1385.9 1450 1393.8 1451.5 1403.3 C1452.9 1412.8 1453.9 1426 1455.3 1435 C1456.6 1443.9 1457.6 1452.4 1459.4 1457.1 C1461.1 1461.9 1463.9 1459.7 1465.7 1463.5 C1467.6 1467.3 1469.4 1476.9 1470.5 1479.9 C1471.5 1483 1471.1 1476.1 1471.9 1481.7 C1472.7 1487.2 1474 1502.8 1475.1 1513.3 C1476.1 1523.9 1477.2 1534.4 1478.2 1545 C1479.3 1555.5 1480.1 1566.1 1481.4 1576.7 C1482.7 1587.2 1484.6 1597.8 1486.2 1608.3 C1487.7 1618.9 1489.3 1630 1490.9 1640 C1492.5 1650 1494.3 1659 1495.7 1668.5 C1497 1678 1497.8 1687 1498.8 1697 C1499.9 1707 1500.9 1718.6 1502 1728.6 C1503 1738.7 1504.4 1745.7 1505.2 1757.1 C1505.9 1768.6 1505.9 1780.2 1506.7 1797.5 C1507.5 1814.8 1508.6 1839.7 1509.9 1860.8 C1511.2 1881.9 1513.3 1903 1514.7 1924.2 C1516 1945.3 1517.2 1969.8 1518.1 1987.5 C1519.1 2005.1 1519.3 2015 1520.4 2030 C1521.4 2045 1523 2061.7 1524.2 2077.5 C1525.3 2093.3 1526.3 2109.2 1527.3 2125 C1528.4 2140.8 1529.4 2157.7 1530.5 2172.5 C1531.5 2187.3 1532.6 2201.5 1533.6 2213.6 C1534.7 2225.8 1535.9 2236.9 1536.8 2245.3 C1537.8 2253.8 1538.3 2260.6 1539.3 2264.3 C1540.4 2268 1541.7 2269.6 1543.1 2267.5 C1544.6 2265.4 1546.6 2251.1 1547.9 2251.6 C1549.2 2252.2 1550 2265.4 1551.1 2270.6 C1552.1 2275.9 1552.9 2280.7 1554.2 2283.3 C1555.6 2285.9 1557.7 2282.3 1559 2286.5 C1560.3 2290.7 1561.2 2301.3 1562.1 2308.6 C1563.1 2316 1563.8 2322.9 1564.7 2330.8 C1565.5 2338.7 1566.4 2347.4 1567.2 2355.8 C1568 2364.2 1568.6 2372.7 1569.4 2381.2 C1570.3 2389.6 1571.3 2399.4 1572.3 2406.5 C1573.3 2413.6 1574.4 2423.9 1575.4 2423.9 C1576.5 2423.9 1577.6 2413.6 1578.6 2406.5 C1579.6 2399.4 1580.6 2389.6 1581.5 2381.2 C1582.4 2372.7 1582.7 2369.5 1584 2355.8 C1585.3 2342.2 1587.7 2319.1 1589.1 2299.1 C1590.4 2279.1 1591.2 2256.9 1592.2 2235.8 C1593.3 2214.7 1594.3 2192 1595.4 2172.5 C1596.4 2153 1597.5 2134.5 1598.6 2118.7 C1599.6 2102.8 1600.9 2086.7 1601.7 2077.5 C1602.5 2068.3 1602 2066.1 1603.3 2063.2 C1604.6 2060.3 1607.8 2061.1 1609.6 2060.1 C1611.5 2059 1612.9 2055.1 1614.4 2056.9 C1615.9 2058.8 1617.2 2065.6 1618.5 2071.2 C1619.8 2076.7 1621.1 2082.2 1622.3 2090.2 C1623.5 2098.1 1624.4 2107.6 1625.5 2118.7 C1626.5 2129.7 1627.3 2139.8 1628.6 2156.7 C1630 2173.5 1631.8 2198.9 1633.4 2220 C1635 2241.1 1636.9 2264.8 1638.1 2283.3 C1639.4 2301.8 1639.8 2317.1 1640.7 2330.8 C1641.6 2344.5 1642.6 2353.2 1643.5 2365.3 C1644.4 2377.4 1644.8 2386.4 1646.1 2403.3 C1647.3 2420.2 1648.7 2445.5 1650.8 2466.7 C1652.9 2487.8 1656.1 2508.9 1658.7 2530 C1661.4 2551.1 1664.3 2574.8 1666.6 2593.3 C1669 2611.8 1671.3 2628.7 1673 2640.8 C1674.7 2652.9 1675.5 2666.1 1676.8 2666.1 C1678.1 2666.1 1679.6 2655.6 1680.9 2640.8 C1682.2 2626 1683.9 2590.9 1684.7 2577.5 C1685.5 2564 1685.3 2566.8 1685.7 2560 C1686.1 2553.2 1686.5 2544 1686.9 2536.7 C1687.3 2529.4 1687.7 2520.4 1688.2 2516 C1688.7 2511.6 1689 2510.1 1689.8 2510.1 C1690.6 2510.1 1692 2512.7 1693.2 2516 C1694.4 2519.3 1695.8 2526.9 1696.7 2529.8 C1697.6 2532.7 1698.1 2534.5 1698.4 2533.3 C1698.8 2532.2 1698.7 2527 1698.8 2522.9 C1698.9 2518.8 1698.7 2515.9 1698.8 2509 C1698.9 2502.1 1699.1 2490.7 1699.4 2481.5 C1699.7 2472.3 1700.2 2462.4 1700.5 2453.8 C1700.8 2445.2 1700.9 2440.6 1701.2 2430 C1701.5 2419.4 1702.1 2403.9 1702.6 2390 C1703.1 2376.1 1703.4 2359.1 1704 2346.6 C1704.6 2334.1 1705.3 2328.2 1706.2 2315 C1707.1 2301.8 1708.3 2283.3 1709.4 2267.5 C1710.4 2251.6 1711.5 2235.8 1712.6 2220 C1713.6 2204.2 1714.7 2188.3 1715.7 2172.5 C1716.8 2156.7 1718 2136.6 1718.9 2125 C1719.8 2113.4 1720 2107.3 1721.1 2102.8 C1722.2 2098.3 1724.1 2096 1725.2 2098.1 C1726.3 2100.2 1727 2116.3 1727.7 2115.5 C1728.5 2114.7 1729.1 2102.3 1730 2093.3 C1730.9 2084.4 1732.3 2074 1733.1 2061.7 C1733.9 2049.3 1733.7 2036.8 1734.7 2019.1 C1735.8 2001.5 1737.6 1979.6 1739.5 1955.8 C1741.3 1932.1 1743.7 1900.4 1745.8 1876.7 C1747.9 1852.9 1750.3 1830.2 1752.1 1813.3 C1754 1796.4 1755.6 1785.9 1756.9 1775.3 C1758.2 1764.8 1758.7 1759.4 1760 1750 C1761.4 1740.6 1762.7 1734.8 1764.8 1719.1 C1766.9 1703.4 1770.1 1676.9 1772.7 1655.8 C1775.4 1634.7 1778 1613.6 1780.6 1592.5 C1783.3 1571.4 1786.2 1547.6 1788.5 1529.2 C1790.9 1510.7 1793 1494.9 1794.9 1481.7 C1796.7 1468.5 1798.3 1457.8 1799.6 1450 C1800.9 1442.2 1801.1 1444.9 1802.6 1435 C1804.2 1425.1 1806.9 1402.3 1809 1390.6 C1811.1 1379 1813.2 1365.3 1815.3 1365.3 C1817.4 1365.3 1819.8 1379 1821.6 1390.6 C1823.5 1402.3 1824.8 1420.1 1826.4 1435 C1828 1449.9 1830.3 1471.1 1831.1 1479.9 C1832 1488.8 1831.2 1479.8 1831.7 1488 C1832.2 1496.2 1832.7 1517 1833.9 1529.2 C1835.1 1541.3 1837.1 1553.7 1838.7 1560.8 C1840.2 1567.9 1841.3 1569.3 1843.4 1571.9 C1845.5 1574.5 1849.1 1577.4 1851.3 1576.7 C1853.6 1575.9 1855.4 1573.5 1857 1567.2 C1858.6 1560.8 1859.4 1547.6 1860.8 1538.7 C1862.2 1529.7 1864 1518.3 1865.6 1513.3 C1867.2 1508.3 1868.7 1508.1 1870.3 1508.6 C1871.9 1509.1 1873.2 1511.5 1875.1 1516.5 C1876.9 1521.5 1879.3 1534.5 1881.4 1538.7 C1883.5 1542.8 1885.9 1540.1 1887.7 1541.2 C1889.6 1542.2 1891.1 1540.7 1892.5 1545 C1893.9 1549.3 1895 1561.4 1896.3 1567.2 C1897.6 1573 1899 1580.9 1900.4 1579.8 C1901.8 1578.8 1903.2 1567.7 1904.5 1560.8 C1905.8 1554 1906.4 1542.6 1908.3 1538.7 C1910.3 1534.7 1914.2 1541.3 1916.2 1537.1 C1918.3 1532.9 1919.6 1522 1920.7 1513.3 C1921.8 1504.6 1922.3 1492.6 1922.9 1484.8 C1923.4 1477 1923.3 1474.9 1923.9 1466.6 C1924.5 1458.3 1925 1447.6 1926.5 1435 C1927.9 1422.3 1930.4 1405.4 1932.5 1390.6 C1934.5 1375.9 1936.7 1362.1 1938.8 1346.3 C1940.9 1330.5 1943 1311 1945.1 1295.7 C1947.2 1280.3 1949.6 1265.6 1951.5 1254.5 C1953.3 1243.4 1955.3 1234.7 1956.2 1229.2 C1957.1 1223.6 1955.9 1224.9 1956.8 1221 C1957.6 1217.1 1960.3 1208.6 1961.3 1205.7 C1962.4 1202.9 1962.2 1202.9 1963.2 1203.9 C1964.2 1204.9 1966 1209.3 1967.4 1211.8 C1968.9 1214.4 1970.6 1220.2 1972 1219.1 C1973.4 1218.1 1974.8 1211 1975.8 1205.7 C1976.8 1200.4 1977.3 1192.3 1978.1 1187.4 C1978.9 1182.6 1979.8 1176.8 1980.8 1176.8 C1981.9 1176.8 1983.1 1182.6 1984.2 1187.4 C1985.3 1192.3 1986.4 1198.9 1987.2 1205.7 C1988.1 1212.6 1988.5 1221 1989.1 1228.6 C1989.6 1236.2 1990.1 1242.6 1990.6 1251.4 C1991.1 1260.3 1991.4 1271.8 1991.8 1281.9 C1992.2 1292.1 1992.6 1302.3 1992.9 1312.4 C1993.2 1322.6 1993.4 1330.2 1993.6 1342.9 C1993.9 1355.6 1994.1 1373.4 1994.3 1388.6 C1994.5 1403.9 1994.7 1420.4 1994.9 1434.3 C1995 1448.3 1995.1 1458.2 1995.2 1472.4 C1995.2 1486.7 1995.1 1498.7 1995.2 1520 C1995.3 1541.3 1995.6 1556.7 1995.8 1600 C1996 1643.3 1996.1 1736.7 1996.6 1780 C1997.1 1823.3 1997.9 1838.1 1998.6 1860 C1999.3 1881.9 2000 1911.5 2000.8 1911.5 C2001.6 1911.5 2002.5 1881.9 2003.2 1860 C2003.9 1838.1 2004.4 1815 2005 1780 C2005.6 1745 2006.4 1693.3 2007 1650 C2007.6 1606.7 2008.8 1549.6 2008.6 1520 C2008.4 1490.4 2006 1486.7 2005.8 1472.4 C2005.7 1458.2 2007.1 1445.8 2007.8 1434.3 C2008.5 1422.9 2009.3 1411.5 2010.1 1403.9 C2010.9 1396.2 2011.8 1387.3 2012.9 1388.6 C2013.9 1389.9 2014.9 1402.6 2016.2 1411.5 C2017.5 1420.4 2019.3 1433.6 2020.8 1442 C2022.3 1450.3 2023.8 1463 2025.4 1461.8 C2026.9 1460.5 2028.7 1445.3 2029.9 1434.3 C2031.2 1423.4 2032 1406.4 2033 1396.2 C2034 1386.1 2035 1379 2036 1373.4 C2037 1367.8 2037.5 1361.4 2039.1 1362.7 C2040.6 1364 2043.4 1372.9 2045.2 1381 C2046.9 1389.1 2048.3 1401.3 2049.7 1411.5 C2051.1 1421.6 2052.6 1433.1 2053.5 1442 C2054.5 1450.9 2055.4 1459.3 2055.5 1464.8 C2055.7 1470.4 2054.6 1465.9 2054.6 1475.2 C2054.6 1484.6 2055.2 1503.2 2055.5 1521 C2055.9 1538.7 2056.3 1564.1 2056.7 1581.9 C2057.2 1599.7 2057.7 1615 2058.3 1627.7 C2058.9 1640.4 2059.7 1656.9 2060.4 1658.1 C2061.1 1659.4 2061.7 1644.2 2062.2 1635.3 C2062.8 1626.4 2063.3 1613.7 2063.8 1604.8 C2064.2 1595.9 2064.4 1592.1 2065 1581.9 C2065.6 1571.8 2066.5 1555.3 2067.3 1543.8 C2068 1532.4 2068.7 1520.7 2069.6 1513.3 C2070.4 1506 2071.3 1502.5 2072.6 1499.9 C2073.9 1497.4 2075.6 1496.6 2077.2 1498.1 C2078.7 1499.6 2080.2 1503.7 2081.7 1508.8 C2083.3 1513.9 2084.8 1521.5 2086.3 1528.6 C2087.8 1535.7 2089.4 1543.8 2090.9 1551.4 C2092.4 1559.1 2094.1 1566.7 2095.5 1574.3 C2096.9 1581.9 2098.3 1588.3 2099.3 1597.2 C2100.3 1606.1 2100.9 1617.5 2101.6 1627.7 C2102.2 1637.8 2102.6 1648 2103.1 1658.1 C2103.6 1668.3 2104.2 1678.5 2104.6 1688.6 C2105 1698.8 2105.4 1708 2105.5 1719.1 C2105.6 1730.2 2105.2 1746.2 2105.3 1755.2 C2105.3 1764.3 2105.6 1767.2 2105.9 1773.5 C2106.1 1779.9 2106.4 1786.2 2106.6 1793.3 C2106.9 1800.5 2107.2 1808.6 2107.6 1816.2 C2107.9 1823.8 2108.3 1837.5 2108.8 1839.1 C2109.3 1840.6 2109.9 1830.4 2110.6 1825.4 C2111.3 1820.3 2112.2 1812.9 2113 1808.6 C2113.9 1804.3 2114.9 1798.7 2115.6 1799.4 C2116.3 1800.2 2116.8 1807.8 2117.3 1813.2 C2117.8 1818.5 2117.8 1823.3 2118.7 1831.4 C2119.5 1839.6 2121.1 1854.3 2122.5 1861.9 C2123.8 1869.6 2125.5 1869.6 2126.8 1877.2 C2128 1884.8 2129 1897.5 2130.1 1907.7 C2131.2 1917.8 2132.3 1928 2133.2 1938.1 C2134 1948.3 2134.7 1958.5 2135.4 1968.6 C2136.2 1978.8 2136.9 1988.9 2137.7 1999.1 C2138.6 2009.3 2139.5 2022 2140.5 2029.6 C2141.4 2037.2 2142.2 2041.3 2143.5 2044.8 C2144.8 2048.4 2146.1 2049.4 2148.4 2050.9 C2150.7 2052.4 2154.5 2053.1 2157.5 2054 C2160.6 2054.9 2165 2055.8 2166.7 2056.3 C2168.3 2056.7 2166.9 2054.4 2167.4 2056.7 C2167.9 2058.9 2169.1 2065.4 2169.7 2069.6 C2170.4 2073.8 2170.2 2079 2171.2 2081.8 C2172.3 2084.6 2174.7 2083.1 2175.8 2086.4 C2177 2089.7 2177.3 2096 2178.1 2101.6 C2178.9 2107.2 2179.2 2116.4 2180.4 2119.9 C2181.5 2123.5 2183.8 2120.2 2185 2123 C2186.1 2125.8 2186.5 2131.9 2187.2 2136.7 C2188 2141.5 2188.6 2146.9 2189.5 2151.9 C2190.4 2157 2191.2 2164.3 2192.6 2167.2 C2194 2170.1 2196.5 2172 2197.9 2169.5 C2199.3 2166.9 2199.9 2154.6 2201 2151.9 C2202 2149.3 2203 2151.7 2204 2153.5 C2205 2155.2 2206 2159 2207.1 2162.6 C2208.1 2166.2 2209.1 2170.2 2210.1 2174.8 C2211.1 2179.4 2212.1 2183.7 2213.2 2190 C2214.2 2196.4 2215.4 2204 2216.2 2212.9 C2217 2221.8 2217.6 2233.2 2218.2 2243.4 C2218.8 2253.5 2219.3 2266.5 2219.7 2273.9 C2220.1 2281.2 2220.2 2290.1 2220.8 2287.6 C2221.4 2285 2222.6 2271.1 2223.2 2258.6 C2223.9 2246.2 2224.3 2226.9 2224.7 2212.9 C2225.2 2198.9 2225.5 2183.7 2226 2174.8 C2226.4 2165.9 2226.3 2162.3 2227.5 2159.6 C2228.7 2156.8 2231 2159.3 2233 2158 C2234.9 2156.8 2237.7 2151.2 2239.1 2151.9 C2240.5 2152.7 2240.7 2157.5 2241.4 2162.6 C2242 2167.7 2242.4 2176.8 2242.9 2182.4 C2243.4 2188 2243.8 2196.1 2244.4 2196.1 C2245 2196.1 2245.8 2185.7 2246.7 2182.4 C2247.6 2179.1 2248.2 2177.8 2249.7 2176.3 C2251.3 2174.8 2254.4 2171 2255.8 2173.3 C2257.2 2175.6 2257.2 2184.7 2258.1 2190 C2259 2195.4 2260.3 2202.2 2261.2 2205.3 C2262.1 2208.3 2262.7 2209.6 2263.5 2208.3 C2264.2 2207.1 2265 2203.2 2265.7 2197.7 C2266.5 2192.1 2267.3 2182.4 2268 2174.8 C2268.8 2167.2 2269.6 2156.2 2270.3 2151.9 C2271.1 2147.6 2272 2154 2272.6 2148.9 C2273.2 2143.8 2273.7 2131.1 2274.1 2121.4 C2274.5 2111.8 2274.7 2101.1 2274.9 2091 C2275.1 2080.8 2275.2 2070.6 2275.3 2060.5 C2275.5 2050.3 2275.6 2041.7 2275.6 2030 C2275.7 2018.3 2275.5 2011.7 2275.6 1990 C2275.7 1968.3 2275.8 1940 2276 1900 C2276.2 1860 2276.4 1793.3 2276.6 1750 C2276.8 1706.7 2277 1668.7 2277.2 1640 C2277.4 1611.3 2277.4 1578 2277.6 1578 C2277.8 1578 2278.3 1611.3 2278.6 1640 C2278.9 1668.7 2279.1 1709.2 2279.4 1750 C2279.7 1790.8 2279.2 1859 2280.2 1885 C2281.2 1911 2284.3 1888.5 2285.5 1906 C2286.7 1923.5 2286.9 1964.7 2287.3 1990 C2287.7 2015.3 2287.9 2046.7 2288 2058" fill="none" stroke="#ff0000" stroke-width="8.3" stroke-linecap="round" stroke-linejoin="round"/>
<path d="M2000.9 1700L2000.9 1904M2281 1905L2281.5 2052M2059.5 1570L2060.3 1650M2110 1805L2110.5 1832M1542 2250L1543 2262M1694 2517L1695.5 2527M1721 2096L1721.5 2112M2220.2 2215L2221 2262" fill="none" stroke="#ff0000" stroke-width="8" stroke-linecap="round"/>
<path d="M470.1 2293L470.1 2343.5" stroke="#666" stroke-width="6.0" fill="none"/>
<path d="M445.9 2595L445.9 2644" stroke="#666" stroke-width="6.0" fill="none"/>
<path d="M745.7 1496.5L745.7 1545" stroke="#777" stroke-width="6.0" fill="none"/>
<path d="M774.2 1641.5L774.2 1692.5" stroke="#222" stroke-width="5.5" fill="none"/>
<path d="M821.7 1486.4L871.7 1561.4" stroke="#333" stroke-width="4.5" fill="none"/>
<path d="M1282.4 1284.6L1282.4 1332.5" stroke="#222" stroke-width="5.5" fill="none"/>
<path d="M1680.7 1390L1680.7 1439" stroke="#333" stroke-width="5.5" fill="none"/>
<path d="M1842.6 1591.5L1842.6 1640.5" stroke="#111" stroke-width="5.5" fill="none"/>
<path d="M1901.4 1584.6L1901.4 1634.5" stroke="#666" stroke-width="6.0" fill="none"/>
<path d="M1871.4 1283L1871.4 1330.5" stroke="#333" stroke-width="5.5" fill="none"/>
<path d="M1897.7 1269.7L1897.7 1318" stroke="#333" stroke-width="5.5" fill="none"/>
<path d="M2019.5 1324L2019.5 1373.4" stroke="#5a84c4" stroke-width="4.0" fill="none"/>
<path d="M2057.7 1664.3L2057.7 1713" stroke="#777" stroke-width="6.5" fill="none"/>
<path d="M2107.3 1848.4L2107.3 1898.5" stroke="#222" stroke-width="5.5" fill="none"/>
<path d="M2213.9 1994.8L2213.9 2046.4" stroke="#555" stroke-width="6.0" fill="none"/>
<path d="M1544.5 2158.6L1544.5 2208.6" stroke="#707070" stroke-width="6.5" fill="none"/>
<path d="M1578.6 2431.8L1609 2486.3" stroke="#333" stroke-width="4.5" fill="none"/>
<path d="M1999.3 1810L1999.3 1860.5" stroke="#a05880" stroke-width="3.6" fill="none"/>
</g>
</g>
</svg>
</body></html>
